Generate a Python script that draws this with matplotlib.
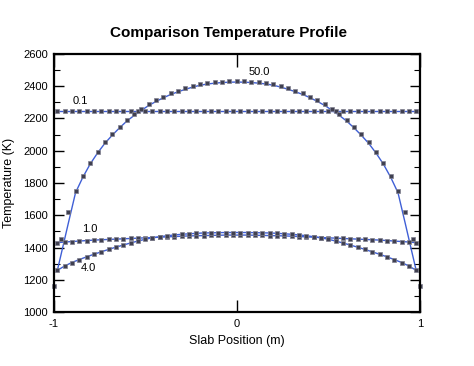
import matplotlib
matplotlib.use('Agg')
import matplotlib.pyplot as plt
from matplotlib.ticker import MultipleLocator, FixedLocator
import numpy as np

plt.rcParams['font.family'] = ['Liberation Sans', 'DejaVu Sans']

# marker positions (cell centres) for Bi = 0.1, 1.0, 4.0
x_cells = [-0.98, -0.94, -0.90, -0.86, -0.82, -0.78, -0.74, -0.70, -0.66, -0.62,
           -0.58, -0.54, -0.50, -0.46, -0.42, -0.38, -0.34, -0.30, -0.26, -0.22,
           -0.18, -0.14, -0.10, -0.06, -0.02,
           0.02, 0.06, 0.10, 0.14, 0.18, 0.22, 0.26, 0.30, 0.34, 0.38,
           0.42, 0.46, 0.50, 0.54, 0.58, 0.62, 0.66, 0.70, 0.74, 0.78,
           0.82, 0.86, 0.90, 0.94, 0.98]

t_01 = [2245] * 50

t_10 = [1430, 1434, 1437, 1440, 1443, 1446, 1448, 1450, 1452, 1454,
        1456, 1458, 1460, 1462, 1464, 1466, 1468, 1470, 1472, 1473,
        1474, 1475, 1476, 1477, 1477,
        1477, 1477, 1476, 1475, 1474, 1473, 1472, 1470, 1468, 1466,
        1464, 1462, 1460, 1458, 1456, 1454, 1452, 1450, 1448, 1446,
        1443, 1440, 1437, 1434, 1430]

t_40 = [1258, 1285, 1307, 1325, 1342, 1358, 1373, 1388, 1402, 1415,
        1428, 1440, 1451, 1460, 1467, 1473, 1478, 1482, 1485, 1488,
        1490, 1491, 1492, 1493, 1493,
        1493, 1493, 1492, 1491, 1490, 1488, 1485, 1482, 1478, 1473,
        1467, 1460, 1451, 1440, 1428, 1415, 1402, 1388, 1373, 1358,
        1342, 1325, 1307, 1285, 1258]

# Bi = 50.0 numerical points (nodes incl. surfaces)
x_nodes = [-1.00, -0.96, -0.92, -0.88, -0.84, -0.80, -0.76, -0.72, -0.68, -0.64,
           -0.60, -0.56, -0.52, -0.48, -0.44, -0.40, -0.36, -0.32, -0.28, -0.24,
           -0.20, -0.16, -0.12, -0.08, -0.04, 0.00,
           0.04, 0.08, 0.12, 0.16, 0.20, 0.24, 0.28, 0.32, 0.36, 0.40,
           0.44, 0.48, 0.52, 0.56, 0.60, 0.64, 0.68, 0.72, 0.76, 0.80,
           0.84, 0.88, 0.92, 0.96, 1.00]
t_50 = [1160, 1452, 1622, 1748, 1843, 1926, 1992, 2052, 2102, 2149,
        2191, 2226, 2257, 2287, 2312, 2335, 2355, 2372, 2387, 2401,
        2412, 2420, 2425, 2429, 2431, 2432,
        2431, 2429, 2425, 2420, 2412, 2401, 2387, 2372, 2355, 2335,
        2312, 2287, 2257, 2226, 2191, 2149, 2102, 2052, 1992, 1926,
        1843, 1748, 1622, 1452, 1160]

# Bi = 50.0 analytic curve
x_line50 = [-0.98, -0.96, -0.92, -0.88, -0.84, -0.80, -0.76, -0.72, -0.68, -0.64,
            -0.60, -0.56, -0.52, -0.48, -0.44, -0.40, -0.36, -0.32, -0.28, -0.24,
            -0.20, -0.16, -0.12, -0.08, -0.04, 0.00,
            0.04, 0.08, 0.12, 0.16, 0.20, 0.24, 0.28, 0.32, 0.36, 0.40,
            0.44, 0.48, 0.52, 0.56, 0.60, 0.64, 0.68, 0.72, 0.76, 0.80,
            0.84, 0.88, 0.92, 0.96, 0.98]
t_line50 = [1255, 1352, 1548, 1740, 1836, 1918, 1986, 2046, 2096, 2142,
            2184, 2219, 2251, 2281, 2306, 2329, 2349, 2366, 2381, 2395,
            2406, 2414, 2419, 2423, 2425, 2426,
            2425, 2423, 2419, 2414, 2406, 2395, 2381, 2366, 2349, 2329,
            2306, 2281, 2251, 2219, 2184, 2142, 2096, 2046, 1986, 1918,
            1836, 1740, 1548, 1352, 1255]

labels = ['0.1', '50.0', '1.0', '4.0']
label_x = [-0.855, 0.125, -0.80, -0.81]
label_y = [2308, 2490, 1513, 1275]

line_col = '#3f5fd6'
mk = dict(linestyle='none', marker='s', ms=2.3, mfc='#404050', mec='#808090', mew=0.5)

fig = plt.figure(figsize=(4.74, 3.66), dpi=100)
ax = fig.add_axes([0.113, 0.1475, 0.773, 0.705])

ax.plot(x_cells, t_01, color=line_col, lw=1.0)
ax.plot(x_line50, t_line50, color=line_col, lw=1.0)
ax.plot(x_cells, t_10, color=line_col, lw=1.0)
ax.plot(x_cells, t_40, color=line_col, lw=1.0)

ax.plot(x_cells, t_01, **mk)
ax.plot(x_nodes, t_50, **mk, clip_on=False)
ax.plot(x_cells, t_10, **mk)
ax.plot(x_cells, t_40, **mk)

for s, lx, ly in zip(labels, label_x, label_y):
    ax.text(lx, ly, s, fontsize=8, ha='center', va='center')

ax.set_xlim(-1, 1)
ax.set_ylim(1000, 2600)
ax.xaxis.set_major_locator(FixedLocator([-1, 0, 1]))
ax.set_xticklabels(['-1', '0', '1'])
ax.yaxis.set_major_locator(MultipleLocator(200))
ax.yaxis.set_minor_locator(MultipleLocator(100))

ax.tick_params(axis='y', which='major', direction='in', length=7, width=1,
               left=True, right=True, labelsize=8, pad=4)
ax.tick_params(axis='y', which='minor', direction='in', length=4, width=0.8,
               left=True, right=True)
ax.tick_params(axis='x', which='major', direction='in', length=9, width=1,
               top=True, bottom=True, labelsize=8, pad=5)

for sp in ax.spines.values():
    sp.set_linewidth(1.6)

ax.set_xlabel('Slab Position (m)', fontsize=9, labelpad=4)
ax.set_ylabel('Temperature (K)', fontsize=9, labelpad=6)
ax.set_title('Comparison Temperature Profile', fontsize=11, fontweight='bold', pad=12,
             x=0.477)

fig.savefig('out.png', dpi=100)
